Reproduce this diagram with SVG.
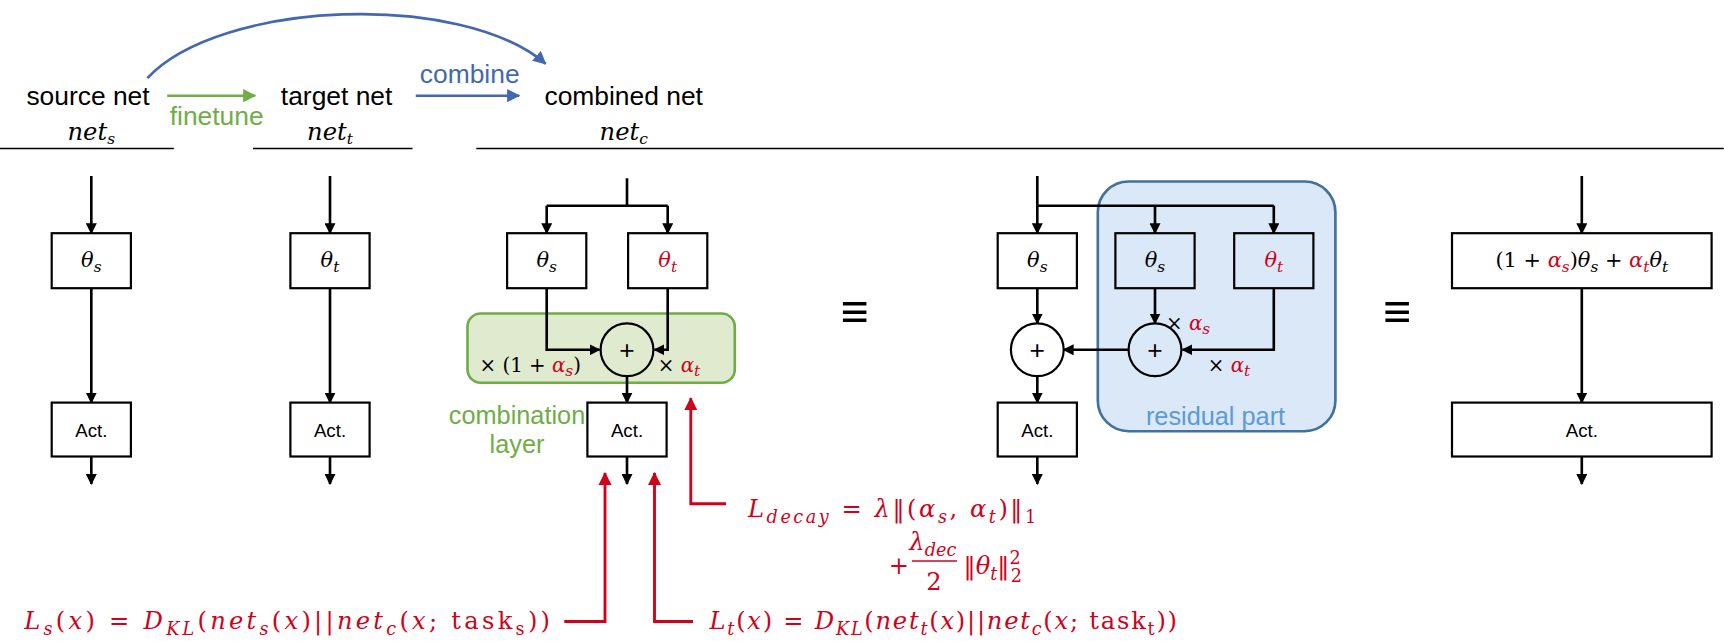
<svg xmlns="http://www.w3.org/2000/svg" width="1724" height="641" viewBox="0 0 1724 641">
<style>
.t{font-family:"Liberation Sans",Arial,sans-serif;font-size:20px;fill:#000}
.h{font-size:24px}
.m{font-family:"DejaVu Serif","Liberation Serif",serif;font-style:italic;font-size:19px}
.n{font-family:"DejaVu Serif","Liberation Serif",serif;font-style:normal;font-size:19px}
.r{fill:#d0021b}
.box{fill:#fff;stroke:#000;stroke-width:2}
.ln{fill:none;stroke:#000;stroke-width:2.4}
.rl{fill:none;stroke:#d0021b;stroke-width:2.6}
.sub{font-size:14px}
.big{font-size:22px}
.lsub{font-size:16px}
</style>
<defs>
<marker id="a" markerWidth="10" markerHeight="10" refX="9" refY="5" orient="auto" markerUnits="userSpaceOnUse"><path d="M0,0 L10,5 L0,10z" fill="#000"/></marker>
<marker id="ar" markerWidth="12" markerHeight="12" refX="11" refY="6" orient="auto" markerUnits="userSpaceOnUse"><path d="M0,0 L12,6 L0,12z" fill="#d0021b"/></marker>
<marker id="ag" markerWidth="12" markerHeight="12" refX="11" refY="6" orient="auto" markerUnits="userSpaceOnUse"><path d="M0,0 L12,6 L0,12z" fill="#70ad47"/></marker>
<marker id="ab" markerWidth="12" markerHeight="12" refX="11" refY="6" orient="auto" markerUnits="userSpaceOnUse"><path d="M0,0 L12,6 L0,12z" fill="#4468b0"/></marker>
</defs>
<rect width="1724" height="641" fill="#fff"/>
<g transform="scale(1.1)">
<g id="header">
<text class="t h" x="80" y="95" text-anchor="middle">source net</text>
<text class="m big" x="83" y="127" text-anchor="middle">net<tspan class="sub" dy="4">s</tspan></text>
<text class="t h" x="306" y="95" text-anchor="middle">target net</text>
<text class="m big" x="300" y="127" text-anchor="middle">net<tspan class="sub" dy="4">t</tspan></text>
<text class="t h" x="567" y="95" text-anchor="middle">combined net</text>
<text class="m big" x="567" y="127" text-anchor="middle">net<tspan class="sub" dy="4">c</tspan></text>
<text class="t h" x="197" y="114" text-anchor="middle" style="fill:#70ad47">finetune</text>
<text class="t h" x="427" y="75" text-anchor="middle" style="fill:#4468b0">combine</text>
<path d="M0,135H158M230,135H375M433,135H1567" stroke="#000" stroke-width="1.2"/>
</g>
<rect id="greenbg" x="425" y="285" width="243" height="63" rx="12" fill="#dfeacf" stroke="#70ad47" stroke-width="2.4"/>
<rect id="bluebg" x="998" y="165" width="216" height="227" rx="28" fill="#dae8f7" stroke="#41719c" stroke-width="2.4"/>
<g id="connectors">
<path d="M152,87H232" stroke="#70ad47" stroke-width="2.4" marker-end="url(#ag)"/>
<path d="M378,87H472" stroke="#4468b0" stroke-width="2.4" marker-end="url(#ab)"/>
<path d="M134,71C200,0 420,-8 496,58" fill="none" stroke="#4468b0" stroke-width="2.4" marker-end="url(#ab)"/>
<path class="ln" d="M83,160V212" marker-end="url(#a)"/><path class="ln" d="M83,262V366" marker-end="url(#a)"/><path class="ln" d="M83,415V440" marker-end="url(#a)"/>
<path class="ln" d="M300,160V212" marker-end="url(#a)"/><path class="ln" d="M300,262V366" marker-end="url(#a)"/><path class="ln" d="M300,415V440" marker-end="url(#a)"/>
<path class="ln" d="M570,162V187M497,187H607"/>
<path class="ln" d="M497,187V212" marker-end="url(#a)"/><path class="ln" d="M607,187V212" marker-end="url(#a)"/>
<path class="ln" d="M497,262V318H545" marker-end="url(#a)"/><path class="ln" d="M607,262V318H595" marker-end="url(#a)"/>
<path class="ln" d="M570,342V366" marker-end="url(#a)"/><path class="ln" d="M570,415V440" marker-end="url(#a)"/>
<path class="ln" d="M943,160V187H1158"/>
<path class="ln" d="M943,187V212" marker-end="url(#a)"/><path class="ln" d="M1050,187V212" marker-end="url(#a)"/><path class="ln" d="M1158,187V212" marker-end="url(#a)"/>
<path class="ln" d="M1050,262V294" marker-end="url(#a)"/>
<path class="ln" d="M1158,262V318H1075" marker-end="url(#a)"/>
<path class="ln" d="M1026,318H967" marker-end="url(#a)"/>
<path class="ln" d="M943,262V294" marker-end="url(#a)"/><path class="ln" d="M943,342V366" marker-end="url(#a)"/><path class="ln" d="M943,415V440" marker-end="url(#a)"/>
<path class="ln" d="M1438,160V212" marker-end="url(#a)"/><path class="ln" d="M1438,262V366" marker-end="url(#a)"/><path class="ln" d="M1438,415V440" marker-end="url(#a)"/>
<path class="rl" d="M513,565H550V430" marker-end="url(#ar)"/>
<path class="rl" d="M630,565H595V430" marker-end="url(#ar)"/>
<path class="rl" d="M660,458H628V362" marker-end="url(#ar)"/>
</g>
<g id="col1"><rect class="box" x="47" y="212" width="72" height="50"/><text class="m" x="83" y="243" text-anchor="middle">θ<tspan class="sub" dy="4">s</tspan></text>
<rect class="box" x="47" y="366" width="72" height="49"/><text class="t" x="83" y="397" text-anchor="middle" style="font-size:17px">Act.</text></g>
<g id="col2"><rect class="box" x="264" y="212" width="72" height="50"/><text class="m" x="300" y="243" text-anchor="middle">θ<tspan class="sub" dy="4">t</tspan></text>
<rect class="box" x="264" y="366" width="72" height="49"/><text class="t" x="300" y="397" text-anchor="middle" style="font-size:17px">Act.</text></g>
<g id="combination">
<rect class="box" x="461" y="212" width="72" height="50"/><text class="m" x="497" y="243" text-anchor="middle">θ<tspan class="sub" dy="4">s</tspan></text>
<rect class="box" x="571" y="212" width="72" height="50"/><text class="m r" x="607" y="243" text-anchor="middle">θ<tspan class="sub" dy="4">t</tspan></text>
<circle cx="570" cy="318" r="24" fill="#dfeacf" stroke="#000" stroke-width="2"/><text class="t" x="570" y="326" text-anchor="middle" style="font-size:24px">+</text>
<text class="n" x="436" y="338" style="font-size:18px">× (1 + <tspan class="m r" style="font-size:18px">α<tspan class="sub" dy="4">s</tspan></tspan><tspan dy="-4">)</tspan></text>
<text class="n" x="598" y="338" style="font-size:18px">× <tspan class="m r" style="font-size:18px">α<tspan class="sub" dy="4">t</tspan></tspan></text>
<rect class="box" x="534" y="366" width="72" height="49"/><text class="t" x="570" y="397" text-anchor="middle" style="font-size:17px">Act.</text>
<text class="t" x="470" y="385" text-anchor="middle" style="fill:#70ad47;font-size:23px">combination</text>
<text class="t" x="470" y="412" text-anchor="middle" style="fill:#70ad47;font-size:23px">layer</text>
</g>
<text class="t" x="777" y="298" text-anchor="middle" style="font-size:44px">≡</text>
<text class="t" x="1270" y="298" text-anchor="middle" style="font-size:44px">≡</text>
<g id="residual">
<rect class="box" x="907" y="212" width="72" height="50"/><text class="m" x="943" y="243" text-anchor="middle">θ<tspan class="sub" dy="4">s</tspan></text>
<rect x="1014" y="212" width="72" height="50" fill="#dae8f7" stroke="#000" stroke-width="2"/><text class="m" x="1050" y="243" text-anchor="middle">θ<tspan class="sub" dy="4">s</tspan></text>
<rect x="1122" y="212" width="72" height="50" fill="#dae8f7" stroke="#000" stroke-width="2"/><text class="m r" x="1158" y="243" text-anchor="middle">θ<tspan class="sub" dy="4">t</tspan></text>
<circle cx="943" cy="318" r="24" fill="#fff" stroke="#000" stroke-width="2"/><text class="t" x="943" y="326" text-anchor="middle" style="font-size:24px">+</text>
<circle cx="1050" cy="318" r="24" fill="#dae8f7" stroke="#000" stroke-width="2"/><text class="t" x="1050" y="326" text-anchor="middle" style="font-size:24px">+</text>
<text class="n" x="1060" y="300" style="font-size:18px">× <tspan class="m r" style="font-size:18px">α<tspan class="sub" dy="4">s</tspan></tspan></text>
<text class="n" x="1098" y="338" style="font-size:18px">× <tspan class="m r" style="font-size:18px">α<tspan class="sub" dy="4">t</tspan></tspan></text>
<rect class="box" x="907" y="366" width="72" height="49"/><text class="t" x="943" y="397" text-anchor="middle" style="font-size:17px">Act.</text>
<text class="t" x="1105" y="386" text-anchor="middle" style="fill:#5b9bd5;font-size:23px">residual part</text>
</g>
<g id="col5"><rect class="box" x="1320" y="212" width="236" height="50"/>
<text class="n" x="1438" y="243" text-anchor="middle">(1 + <tspan class="m r">α<tspan class="sub" dy="4">s</tspan></tspan><tspan dy="-4">)</tspan><tspan class="m">θ<tspan class="sub" dy="4">s</tspan></tspan><tspan dy="-4"> + </tspan><tspan class="m r">α<tspan class="sub" dy="4">t</tspan></tspan><tspan class="m" dy="-4">θ<tspan class="sub" dy="4">t</tspan></tspan></text>
<rect class="box" x="1320" y="366" width="236" height="49"/><text class="t" x="1438" y="397" text-anchor="middle" style="font-size:17px">Act.</text></g>
<g id="losses">
<text class="m r big" x="680" y="470" textLength="262" lengthAdjust="spacing">L<tspan class="lsub" dy="5">decay</tspan><tspan class="n big" dy="-5"> = </tspan>λ<tspan class="n big">‖(</tspan>α<tspan class="lsub" dy="5">s</tspan><tspan class="n big" dy="-5">, </tspan>α<tspan class="lsub" dy="5">t</tspan><tspan class="n big" dy="-5">)‖</tspan><tspan class="n lsub" dy="5">1</tspan></text>
<text class="n r big" x="808" y="522">+</text>
<text class="m r big" x="848" y="500" text-anchor="middle">λ<tspan class="lsub" dy="5">dec</tspan></text>
<path d="M829,510H870" stroke="#d0021b" stroke-width="1.5"/>
<text class="n r big" x="849" y="536" text-anchor="middle">2</text>
<text class="n r big" x="876" y="522">‖<tspan class="m big">θ<tspan class="lsub" dy="5">t</tspan></tspan><tspan dy="-5">‖</tspan><tspan class="lsub" dy="-9">2</tspan><tspan class="lsub" dx="-9" dy="16">2</tspan></text>
<text class="m r big" x="22" y="572" textLength="478" lengthAdjust="spacing">L<tspan class="lsub" dy="5">s</tspan><tspan class="n big" dy="-5">(</tspan>x<tspan class="n big">) = </tspan>D<tspan class="lsub" dy="5">KL</tspan><tspan class="n big" dy="-5">(</tspan>net<tspan class="lsub" dy="5">s</tspan><tspan class="n big" dy="-5">(</tspan>x<tspan class="n big">)||</tspan>net<tspan class="lsub" dy="5">c</tspan><tspan class="n big" dy="-5">(</tspan>x<tspan class="n big">; task</tspan><tspan class="n lsub" dy="5">s</tspan><tspan class="n big" dy="-5">))</tspan></text>
<text class="m r big" x="645" y="572" textLength="425" lengthAdjust="spacing">L<tspan class="lsub" dy="5">t</tspan><tspan class="n big" dy="-5">(</tspan>x<tspan class="n big">) = </tspan>D<tspan class="lsub" dy="5">KL</tspan><tspan class="n big" dy="-5">(</tspan>net<tspan class="lsub" dy="5">t</tspan><tspan class="n big" dy="-5">(</tspan>x<tspan class="n big">)||</tspan>net<tspan class="lsub" dy="5">c</tspan><tspan class="n big" dy="-5">(</tspan>x<tspan class="n big">; task</tspan><tspan class="n lsub" dy="5">t</tspan><tspan class="n big" dy="-5">))</tspan></text>
</g>
</g>
</svg>
